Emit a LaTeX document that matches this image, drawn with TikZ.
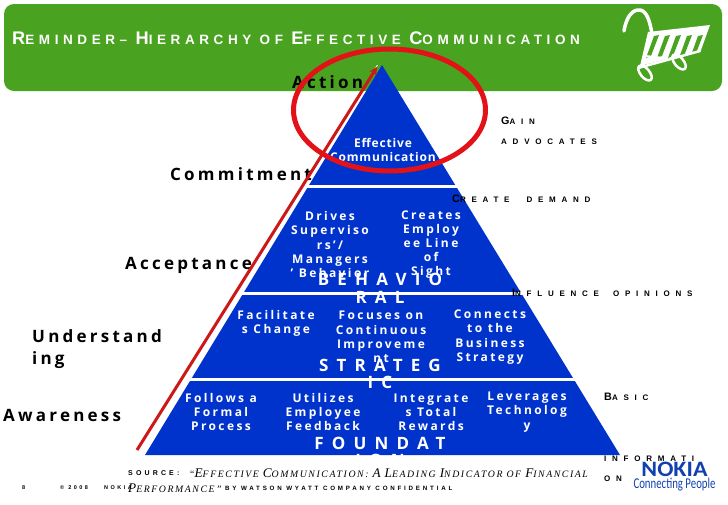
\documentclass[tikz,border=0pt]{standalone}
\usepackage{fontspec}
\setmainfont{Open Sans}
\newfontfamily\closefont[LetterSpace=7]{Open Sans}
\newfontfamily\cellfont[LetterSpace=20]{Open Sans}
\newfontfamily\stagefont[LetterSpace=19]{Open Sans}
\newfontfamily\tierfont[LetterSpace=48]{Open Sans}
\newfontfamily\titlefont[LetterSpace=34]{Liberation Sans}
\newfontfamily\widefont[LetterSpace=72]{Liberation Sans}
\newfontfamily\footfont[LetterSpace=45]{Liberation Sans}
\newfontfamily\slantfont[LetterSpace=16]{Liberation Serif}
\newfontfamily\logofont{Carlito}
\usetikzlibrary{arrows.meta, positioning}

\definecolor{bandgreen}{RGB}{74,163,32}
\definecolor{pyramidblue}{RGB}{0,51,204}
\definecolor{ringred}{RGB}{226,18,24}
\definecolor{arrowred}{RGB}{204,24,24}
\definecolor{logoblue}{RGB}{18,65,175}

\newcommand{\initcap}[1]{\scalebox{1.35}{#1}}

\tikzset{
    level/.style={fill=pyramidblue, draw=none},
    split/.style={white, line width=3pt},
    cell/.style={text=white, align=center, font=\cellfont\bfseries\fontsize{12}{14.2}\selectfont, inner sep=0pt},
    tier/.style={text=white, align=center, font=\tierfont\bfseries\fontsize{17}{17.5}\selectfont, inner sep=0pt},
    stage/.style={text=black, align=left, font=\stagefont\bfseries\fontsize{17}{22}\selectfont, inner sep=0pt, anchor=west},
    note/.style={text=black, align=left, font=\widefont\bfseries\fontsize{8}{20.5}\selectfont, inner sep=0pt, anchor=west},
    foot/.style={text=black, font=\footfont\bfseries\fontsize{5.5}{6}\selectfont, inner sep=0pt, anchor=west},
    source/.style={text=black, align=left, font=\slantfont\itshape\fontsize{9.8}{15}\selectfont, inner sep=0pt, anchor=west},
    cartline/.style={white, line cap=round, line join=round}
}

\begin{document}
\begin{tikzpicture}[x=1pt, y=-1pt]
\useasboundingbox (0,0) rectangle (728,504);

\fill [bandgreen, rounded corners=10pt] (4,4) rectangle (722,91);

\node [text=white, font=\titlefont\bfseries\fontsize{13.5}{13.5}\selectfont, inner sep=0pt, anchor=west] (title) at (12,38)
    {\initcap{R}EMINDER– \initcap{H}IERARCHY OF \initcap{E}FFECTIVE \initcap{C}OMMUNICATION};

% cart
\begin{scope}[cartline]
    \draw [line width=3.5pt] (624,31) .. controls (626,18) and (632,9) .. (640,10) .. controls (647,11) and (650,22) .. (652,34);
    \fill (648,32) -- (710,25) -- (701,50) -- (640,66) -- cycle;
    \foreach \x in {0,1,2,3,4}
        \fill [bandgreen] (654+\x*11,36) -- (659+\x*11,35) -- (651+\x*11,56) -- (646+\x*11,58) -- cycle;
    \draw [line width=2.5pt] (638,68) -- (700,51);
    \draw [line width=2pt] (645,56) -- (664,58);
    \draw [line width=2.5pt, rotate around={-50:(645,73)}] (645,73) ellipse (9pt and 4.5pt);
    \draw [line width=2.5pt, rotate around={-50:(679,62)}] (679,62) ellipse (9pt and 4.5pt);
\end{scope}

% pyramid
\fill [level] (382,65) -- (620,455) -- (145,455) -- cycle;
\coordinate (left1) at (302,186);
\coordinate (right1) at (462,186);
\coordinate (left2) at (240,293);
\coordinate (right2) at (530,293);
\coordinate (left3) at (185,379);
\coordinate (right3) at (590,379);
\draw [split] (left1) -- (right1);
\draw [split] (left2) -- (right2);
\draw [split] (left3) -- (right3);
\fill [white] (382,65) ++(-5,0) -- (143,457) -- (139,457) -- (378,65) -- cycle;

% level texts
\node [cell, font=\closefont\bfseries\fontsize{12}{14.2}\selectfont] (effective) at (383,150) {Effective\\Communication};
\node [cell] (drives) at (330,244.5) {Drives\\Superviso\\rs’/\\Managers\\’ Behavior};
\node [cell] (creates) at (431,244.5) {Creates\\Employ\\ee Line\\of\\Sight};
\node [tier] (behavioral) at (380,288.5) {BEHAVIO\\RAL};
\node [cell] (facilitates) at (276,323) {Facilitate\\s Change};
\node [cell] (focuses) at (381,337) {Focuses on\\Continuous\\Improveme\\nt};
\node [cell] (connects) at (490,337) {Connects\\to the\\Business\\Strategy};
\node [tier] (strategic) at (380,374) {STRATEG\\IC};
\node [cell] (follows) at (221,412) {Follows a\\Formal\\Process};
\node [cell] (utilizes) at (323,412) {Utilizes\\Employee\\Feedback};
\node [cell] (integrates) at (431,412) {Integrate\\s Total\\Rewards};
\node [cell] (leverages) at (527,412) {Leverages\\Technolog\\y};
\node [tier] (foundation) at (380,452) {FOUNDAT\\ION};

% stages
\node [stage] (action) at (292,82) {Action};
\node [stage] (commitment) at (170,174) {Commitment};
\node [stage] (acceptance) at (125,265) {Acceptance};
\node [stage] (understanding) at (32,349) {Understand\\ing};
\node [stage] (awareness) at (3,415) {Awareness};

% notes
\node [note] (gain) at (501,131) {\initcap{G}AIN\\\initcap{}ADVOCATES};
\node [note] (create) at (452,199) {\initcap{C}REATE\hspace{9pt} DEMAND};
\node [note] (influence) at (512,293) {\initcap{I}NFLUENCE\hspace{6pt} OPINIONS};
\node [note] (basic) at (604,397) {\initcap{B}ASIC};
\node [note] (information) at (604,468.5) {INFORMATI\\ON};

% arrow and ring
\coordinate (arrowfoot) at (137,450);
\coordinate (arrowhead) at (377,67);
\draw [arrowred, line width=3pt, -{Stealth[length=8pt, width=8pt]}] (arrowfoot) -- (arrowhead);
\draw [ringred, line width=5pt] (389.5,110) ellipse (96pt and 61pt);

% source and footer
\node [foot, font=\footfont\bfseries\fontsize{7}{7}\selectfont] (sourcetag) at (128,473) {SOURCE:};
\node [source] (sourceline) at (189,473) {“\initcap{E}FFECTIVE \initcap{C}OMMUNICATION: \initcap{A} \initcap{L}EADING \initcap{I}NDICATOR OF \initcap{F}INANCIAL};
\node [source] (sourcetail) at (128,488) {\initcap{P}ERFORMANCE”};
\node [foot] (page) at (22,488) {8};
\node [foot] (copyright) at (60,488) {© 2008};
\node [foot] (owner) at (104,488) {NOKIA};
\node [foot, font=\footfont\bfseries\fontsize{6.2}{7}\selectfont] (confidential) at (225,488) {BY WATSON WYATT COMPANY CONFIDENTIAL};

% logo
\node [text=logoblue, font=\logofont\bfseries\fontsize{22}{22}\selectfont, inner sep=0pt] (nokia) at (674.5,469) {\scalebox{1.09}[1]{NOKIA}};
\node [text=logoblue, font=\logofont\fontsize{15}{15}\selectfont, inner sep=0pt] (people) at (674.5,485) {\scalebox{.72}[1]{Connecting People}};

\end{tikzpicture}
\end{document}
